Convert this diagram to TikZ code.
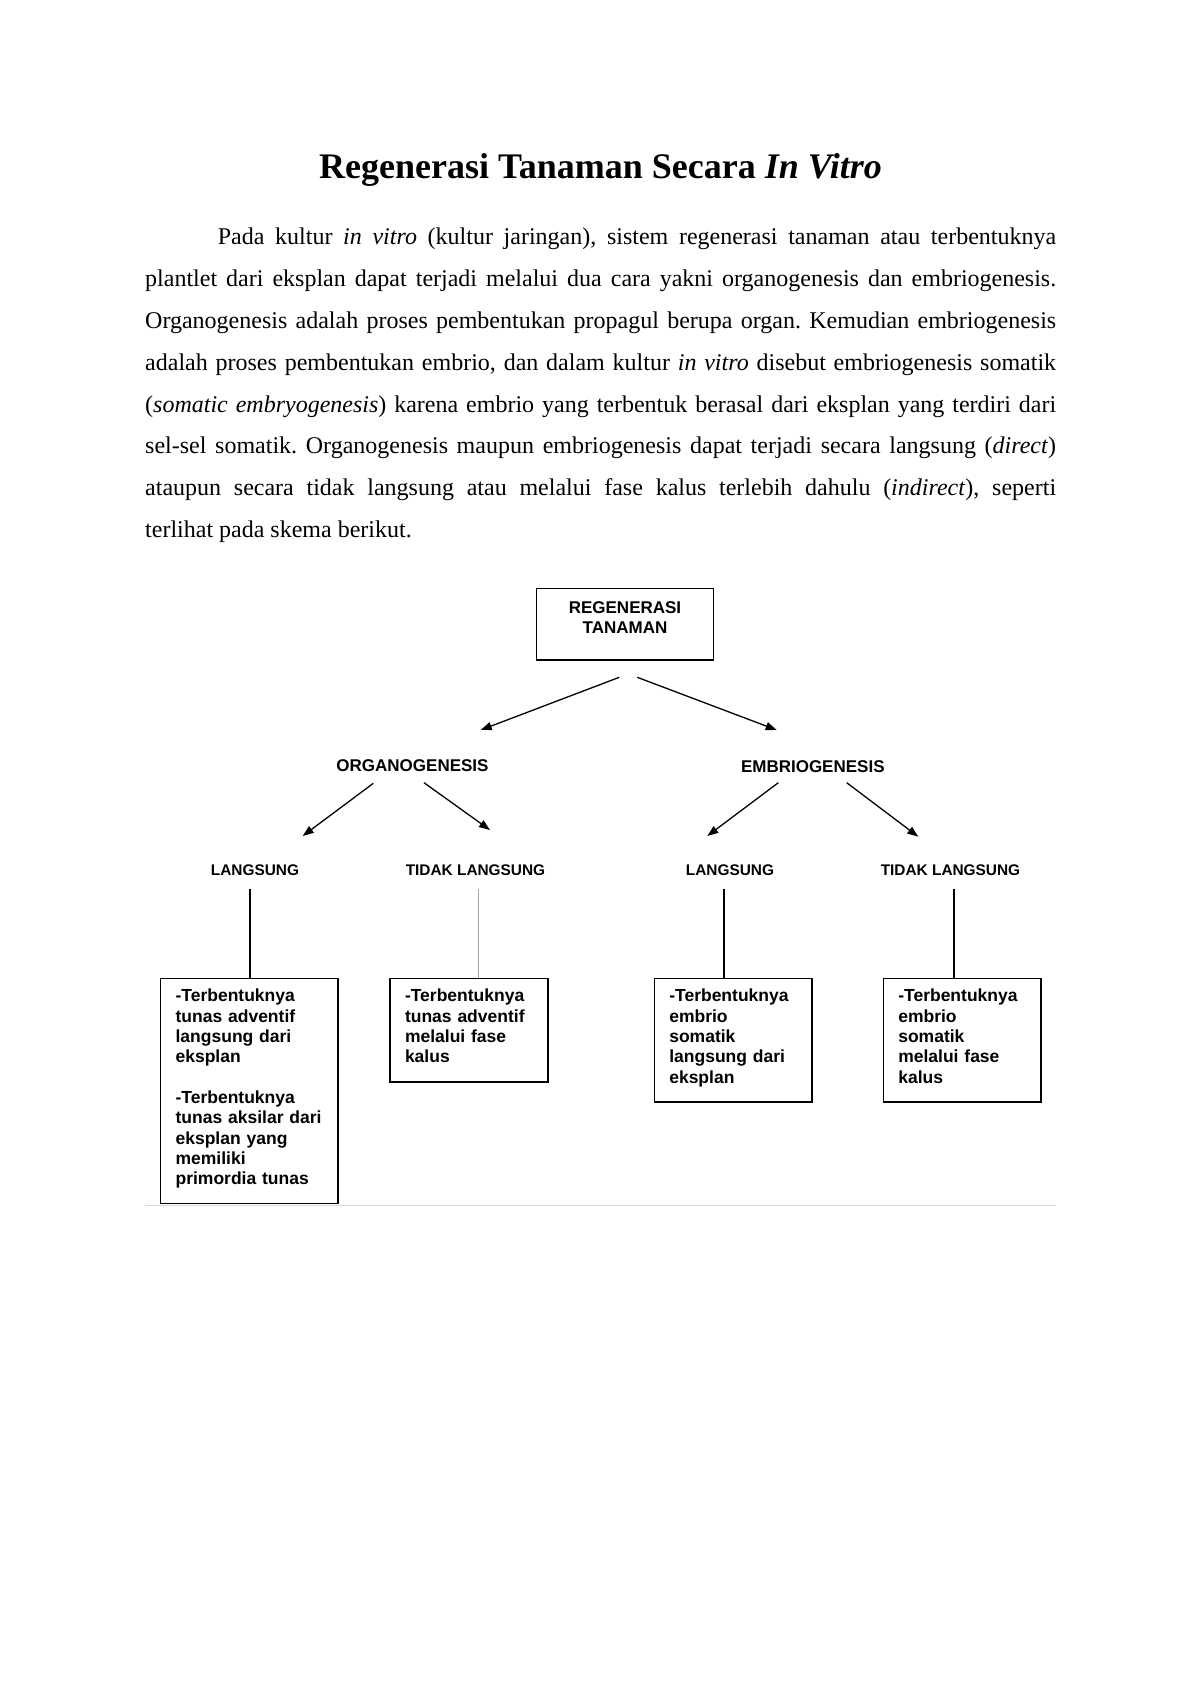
\documentclass[tikz,border=0pt]{standalone}
\usepackage{fontspec}
\setmainfont{Liberation Serif}
\setsansfont{Liberation Sans}
\usetikzlibrary{arrows.meta,positioning,calc}

\newcommand{\boxend}{\rule[-8pt]{0pt}{8pt}}

\begin{document}
\frenchspacing
\begin{tikzpicture}[x=1pt, y=-1pt,
  ar/.style={-{Triangle[length=11pt, width=8pt]}, line width=1.3pt},
  conn/.style={line width=1.3pt},
  lbl/.style={font=\sffamily\bfseries\fontsize{17}{20.7}\selectfont, inner sep=0pt},
  sublbl/.style={font=\sffamily\bfseries\fontsize{15.4}{18}\selectfont, inner sep=0pt},
  infobox/.style={draw, line width=1.4pt, anchor=north west, align=left,
    font=\sffamily\bfseries\fontsize{17.5}{20.3}\selectfont,
    inner xsep=15pt, inner ysep=11pt}]
  \useasboundingbox (0,0) rectangle (1200,1698);
  % heading and paragraph
  \node[anchor=base, inner sep=0pt, font=\bfseries\fontsize{36}{40}\selectfont]
    (title) at (600.5,178) {Regenerasi Tanaman Secara \textit{In Vitro}};
  \node[anchor=north west, inner sep=0pt, text width=911pt, align=justify,
    font=\fontsize{24}{41.8}\selectfont] (para) at (145,228)
    {\hspace*{72.7pt}Pada kultur \textit{in vitro} (kultur jaringan), sistem regenerasi tanaman atau terbentuknya\linebreak
     plantlet dari eksplan dapat terjadi melalui dua cara yakni organogenesis dan embriogenesis.\linebreak
     Organogenesis adalah proses pembentukan propagul berupa organ. Kemudian embriogenesis\linebreak
     adalah proses pembentukan embrio, dan dalam kultur \textit{in vitro} disebut embriogenesis somatik\linebreak
     (\textit{somatic embryogenesis}) karena embrio yang terbentuk berasal dari eksplan yang terdiri dari\linebreak
     sel-sel somatik. Organogenesis maupun embriogenesis dapat terjadi secara langsung (\textit{direct})\linebreak
     ataupun secara tidak langsung atau melalui fase kalus terlebih dahulu (\textit{indirect}), seperti\linebreak
     terlihat pada skema berikut.};
  % frame line under the scheme
  \draw[black!15, line width=1.2pt] (145,1205.5) -- (1056,1205.5);
  % scheme: root box and two branches
  \node[draw, line width=1.4pt, lbl, minimum width=176.6pt, minimum height=71.7pt, align=center]
    (reg) at (625,624.2) {REGENERASI\\TANAMAN\rule[-13pt]{0pt}{13pt}};
  \node[lbl] (org) at (412.5,766) {ORGANOGENESIS};
  \node[lbl] (emb) at (812.8,766.5) {EMBRIOGENESIS};
  \node[sublbl] (l1) at (255,870) {LANGSUNG};
  \node[sublbl] (l2) at (475.5,870) {TIDAK LANGSUNG};
  \node[sublbl] (l3) at (730,870) {LANGSUNG};
  \node[sublbl] (l4) at (950.5,870) {TIDAK LANGSUNG};
  % arrow ends (the arrows stand free of the labels)
  \coordinate (a1) at (619.3,677.3); \coordinate (t1) at (480.7,730);
  \coordinate (a2) at (637.3,677.3); \coordinate (t2) at (776.7,730);
  \coordinate (a3) at (373.3,783.3); \coordinate (t3) at (302.7,836);
  \coordinate (a4) at (424,782.7);   \coordinate (t4) at (490,830);
  \coordinate (a5) at (778.3,782.7); \coordinate (t5) at (707.3,836);
  \coordinate (a6) at (846.7,782.7); \coordinate (t6) at (918.3,836.7);
  \foreach \i in {1,...,6}
    \draw[ar] (a\i) -- (t\i);
  % result boxes
  \node[infobox, text width=147.4pt] (b1) at (159.9,977.6)
    {-Terbentuknya\\tunas adventif\\langsung dari\\eksplan\\[20.3pt]-Terbentuknya\\tunas aksilar dari\\eksplan yang\\memiliki\\primordia tunas\boxend};
  \node[infobox, text width=128pt] (b2) at (389.3,977.6)
    {-Terbentuknya\\tunas adventif\\melalui fase\\kalus\boxend};
  \node[infobox, text width=127.7pt] (b3) at (653.6,977.6)
    {-Terbentuknya\\embrio\\somatik\\langsung dari\\eksplan\boxend};
  \node[infobox, text width=127.7pt] (b4) at (882.6,977.6)
    {-Terbentuknya\\embrio\\somatik\\melalui fase\\kalus\boxend};
  % drop lines from the labels to the boxes
  \coordinate (v1) at (250,889);
  \coordinate (v2) at (478.7,889);
  \coordinate (v3) at (724,889);
  \coordinate (v4) at (954,889);
  \draw[conn] (v1) -- (v1 |- b1.north);
  \draw[black!35, line width=1pt] (v2) -- (v2 |- b2.north);
  \draw[conn] (v3) -- (v3 |- b3.north);
  \draw[conn] (v4) -- (v4 |- b4.north);
\end{tikzpicture}
\end{document}
